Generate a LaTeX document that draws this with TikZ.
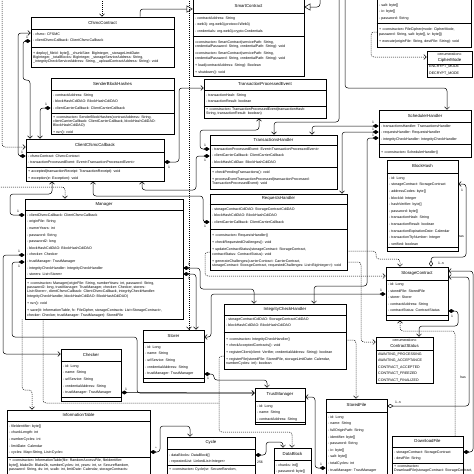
\documentclass[tikz,border=0pt]{standalone}
\usepackage{fontspec}
\setmainfont{Liberation Sans}
\usetikzlibrary{arrows.meta,fit,calc}
\pgfdeclarelayer{back}\pgfdeclarelayer{lines}\pgfsetlayers{back,lines,main}
\tikzset{
 cbox/.style={draw, line width=0.6pt, fill=white, inner sep=0pt},
 ctitle/.style={font=\fontsize{4.3}{5}\selectfont, inner sep=0pt},
 mem/.style={font=\fontsize{3.6}{4.3}\selectfont, inner sep=0pt, anchor=north west, align=left},
 conn/.style={line width=0.5pt, rounded corners=3pt},
 dep/.style={line width=0.5pt, rounded corners=3pt, dash pattern=on 1pt off 1pt},
 nv/.style={-{Straight Barb[length=2.5pt,width=5pt]}},
 cn/.style={{Diamond[length=6pt,width=4pt]}-{Straight Barb[length=2.5pt,width=5pt]}},
 an/.style={{Diamond[open,length=6pt,width=4pt,fill=white]}-{Straight Barb[length=2.5pt,width=5pt]}},
 gen/.style={-{Triangle[open,length=6pt,width=7pt,fill=white]}},
 mult/.style={font=\fontsize{3.4}{4}\selectfont, inner sep=0pt},
}
\newcommand\cls[7]{%
 \node[cbox, fit={(#2,#3) (#4,#5)}] (#1) {};
 \draw[line width=0.5pt] (#1.west |- 0,#6) -- (#1.east |- 0,#6);
 \node[ctitle] (#1-t) at ($(#1.north west)!0.5!(#1.east |- 0,#6)$) {#7};
}
\newcommand\sepl[2]{\draw[line width=0.5pt] (#1.west |- 0,#2) -- (#1.east |- 0,#2);}
\newcommand\RW{\\[2.3pt]}
\newcommand\OP{\\[3pt]}
\begin{document}
\begin{tikzpicture}[x=1pt,y=-1pt]
\begin{pgfonlayer}{back}
\fill[white] (0,0) rectangle (474,474);
\end{pgfonlayer}
\useasboundingbox (0,0) rectangle (474,474);

% ---------------- classes ----------------
\cls{fc}{377}{-15}{471}{47}{-1}{}
\node[mem] (fc-a) at (379,3.4) {- salt: byte[]\RW - iv: byte[]\RW - password: String};
\sepl{fc}{23}
\node[mem] (fc-o) at (379,28) {+ <<constructor>> FileCipher(mode: CipherMode,\\ password: String, salt: byte[], iv: byte[])\OP + execute(originFile: String, destFile: String): void};

\node[cbox, fit={(427,51) (472,77)}] (cm) {};
\node[ctitle] (cm-s) at (449.5,54.3) {\fontsize{3.6}{4}\selectfont <<enumeration>>};
\node[ctitle] (cm-t) at (449.5,60) {CipherMode};
\sepl{cm}{64}
\node[mem] (cm-v) at (429,65.2) {ENCRYPT\_MODE\RW DECRYPT\_MODE};

\cls{sc}{193}{-1}{304}{76}{13}{SmartContract}
\node[mem] (sc-a) at (195,16.4) {- contractAddress: String\RW - web3j: org.web3j.protocol.Web3j\RW - credentials: org.web3j.crypto.Credentials};
\sepl{sc}{36}
\node[mem] (sc-o) at (195,40.4) {<<constructor>> SmartContract(servicePath: String,\\ credentialPassword: String, credentialPath: String): void\OP <<constructor>> SmartContract(servicePath: String,\\ credentialPassword: String, credentialPath: String): void\OP + load(contractAddress: String): Boolean\OP + shutdown(): void};

\cls{cc}{31}{17}{174}{67}{29.5}{CfsmcContract}
\node[mem] (cc-a) at (33,32.4) {- cfsmc: CFSMC\RW - clientCfsmcCallback: ClientCfsmcCallback};
\sepl{cc}{47}
\node[mem] (cc-o) at (33,51.4) {+ deploy(\_fileId: byte[], \_chunkSize: BigInteger, \_storageLimitDate:\\ BigInteger, \_totalBlocks: BigInteger, \_storageServiceAddress: String,\\ \_integrityCheckServiceAddress: String, \_uploadContractAddress: String): void};

\cls{sbh}{51}{78}{174}{134}{90}{SenderBlockHashes}
\node[mem] (sbh-a) at (53,93.4) {- contractAddress: String\RW - blockHashCdiDAO: BlockHashCdiDAO\RW - clientCarrierCallback: ClientCarrierCallback};
\sepl{sbh}{113}
\node[mem] (sbh-o) at (53,115.4) {+ <<constructor>> SenderBlockHashes(contractAddress: String,\\ clientCarrierCallback: ClientCarrierCallback, blockHashCdiDAO:\\ BlockHashCdiDAO)\RW + run(): void};

\cls{ccc}{26}{139}{164}{181}{152}{ClientCfsmcCallback}
\node[mem] (ccc-a) at (28,154.4) {- cfsmcContract: CfsmcContract\RW - transactionProcessedEvent: Event<TransactionProcessedEvent>};
\sepl{ccc}{167}
\node[mem] (ccc-o) at (28,169.6) {+ accepted(transactionReceipt: TransactionReceipt): void\RW + exception(e: Exception): void};

\cls{mgr}{25}{199}{183}{319}{210}{Manager}
\node[mem] (mgr-a) at (27,213.4) {- clientCfsmcCallback: ClientCfsmcCallback\RW - originFile: String\RW - numerYears: int\RW - password: String\RW - password2: long\RW - blockHashCdiDAO: BlockHashCdiDAO\RW - checker: Checker\RW - trustManager: TrustManager\RW - integrityCheckHandler: IntegrityCheckHandler\RW - storers: List<Storer>};
\sepl{mgr}{278}
\node[mem] (mgr-o) at (27,281.4) {+ <<constructor>> Manager(originFile: String, numberYears: int, password: String,\\ password2: long, trustManager: TrustManager, checker: Checker, storers:\\ List<Storer>, clientCfsmcCallback: ClientCfsmcCallback, integrityCheckHandler:\\ IntegrityCheckHandler, blockHashCdiDAO: BlockHashCdiDAO)\OP + run(): void\OP + save(it: InformationTable, fc: FileCipher, storageContracts: List<StorageContract>,\\ checker: Checker, trustManager: TrustManager): StoredFile};

\cls{tpe}{204}{79}{326}{118}{90}{TransactionProcessedEvent}
\node[mem] (tpe-a) at (206,93.4) {- transactionHash: String\RW - transactionResult: boolean};
\sepl{tpe}{106}
\node[mem] (tpe-o) at (206,107.6) {+ <<constructor>> TransactionProcessedEvent(transactionHash:\\ String, transactionResult: boolean)};

\cls{th}{210}{135}{337}{189}{145}{TransactionsHandler}
\node[mem] (th-a) at (212,147.4) {- transactionProcessedEvent: Event<TransactionProcessedEvent>\RW - clientCarrierCallback: ClientCarrierCallback\RW - blockHashCdiDao: BlockHashCdiDAO};
\sepl{th}{167}
\node[mem] (th-o) at (212,170.4) {+ checkPendingTransactions(): void\OP + processEventTransactionProcessed(transactionProcessed:\\ TransactionProcessedEvent): void};

\cls{rh}{210}{194}{347}{270}{204}{RequestsHandler}
\node[mem] (rh-a) at (212,207.4) {- storageContractCdiDAO: StorageContractCdiDAO\RW - blockHashCdiDAO: BlockHashCdiDAO\RW - clientCarrierCallback: ClientCarrierCallback};
\sepl{rh}{229}
\node[mem] (rh-o) at (212,233.4) {+ <<constructor>> RequestsHandler()\OP + checkRequestedChallenges(): void\OP + updateContractStatus(storageContract: StorageContract,\\ contractStatus: ContractStatus): void\OP + generateChallenges(carrierContract: CarrierContract,\\ storageContract: StorageContract, requestedChallenges: List<BigInteger>): void};

\cls{sh}{379}{110}{471}{157}{122}{SchedulerHandler}
\node[mem] (sh-a) at (381,124.4) {- transactionsHandler: TransactionsHandler\RW - requestsHandler: RequestsHandler\RW - integrityCheckHandler: IntegrityCheckHandler};
\sepl{sh}{144}
\node[mem] (sh-o) at (381,150.4) {+ <<constructor>> SchedulerHandler()};

\cls{bh}{387}{160}{458}{251}{173}{BlockHash}
\node[mem] (bh-a) at (389,176.4) {- id: Long\RW - storageContract: StorageContract\RW - addressCodes: byte[]\RW - blockId: Integer\RW - hashVerifier: byte[]\RW - password: byte[]\RW - transactionHash: String\RW - transactionResult: boolean\RW - transactionExpirationDate: Calendar\RW - transactionTtyNumber: Integer\RW - verified: boolean};
\sepl{bh}{247}

\cls{stc}{386}{267}{448}{320}{280}{StorageContract}
\node[mem] (stc-a) at (388,282.6) {- id: Long\RW - storedFile: StoredFile\RW - storer: Storer\RW - contractAddress: String\RW - contractStatus: ContractStatus};
\sepl{stc}{315}

\node[cbox, fit={(376,337) (433,383)}] (cs) {};
\node[ctitle] (cs-s) at (404.5,340.5) {\fontsize{3.6}{4}\selectfont <<enumeration>>};
\node[ctitle] (cs-t) at (404.5,346.3) {ContractStatus};
\sepl{cs}{350}
\node[mem] (cs-v) at (378,352.4) {AWAITING\_PROCESSING\RW AWAITING\_ACCEPTANCE\RW CONTRACT\_ACCEPTED\RW CONTRACT\_FREEZED\RW CONTRACT\_FINALIZED};

\cls{ich}{224}{304}{346}{369}{315}{IntegrityCheckHandler}
\node[mem] (ich-a) at (226,317.4) {- storageContractCdiDAO: StorageContractCdiDAO\RW - blockHashCdiDAO: BlockHashCdiDAO};
\sepl{ich}{332}
\node[mem] (ich-o) at (226,337.4) {+ <<constructor>> IntegrityCheckHandler()\RW + checkAcceptedContracts(): void\RW + registerClient(client: Verifier, credentialAddress: String): boolean\RW + registerFile(storedFile: StoredFile, storageLimitDate: Calendar,\\ numberCycles: int): boolean};

\cls{sto}{143}{330}{204}{382}{342}{Storer}
\node[mem] (sto-a) at (145,345.4) {- id: Long\RW - name: String\RW - urlService: String\RW - credentialAddress: String\RW - trustManager: TrustManager};
\sepl{sto}{378}

\cls{chk}{61}{349}{121}{401}{361}{Checker}
\node[mem] (chk-a) at (63,364.4) {- id: Long\RW - name: String\RW - urlService: String\RW - credentialAddress: String\RW - trustManager: TrustManager};
\sepl{chk}{397}

\cls{tm}{255}{388}{305}{424}{401}{TrustManager}
\node[mem] (tm-a) at (257,404.4) {- id: Long\RW - name: String\RW - contractAddress: String};
\sepl{tm}{422}

\cls{it}{7}{410}{150}{490}{421}{InformationTable}
\node[mem] (it-a) at (9,424.4) {- fileIdentifier: byte[]\RW - chunkLength: int\RW - numberCycles: int\RW - limitDate: Calendar\RW - cycles: Map<String, List<Cycle>>};
\sepl{it}{457}
\node[mem] (it-o) at (9,459) {+ <<constructor>> InformationTable(file: RandomAccessFile, fileIdentifier:\\ byte[], blake2b: Blake2b, numberCycles: int, years: int, sr: SecureRandom,\\ password: String, ds: int, scalb: int, limitDate: Calendar, storageContracts:};

\cls{cyc}{167}{437}{255}{490}{449}{Cycle}
\node[mem] (cyc-a) at (169,453.4) {- dataBlocks: DataBlock[]\RW - repeatedList: LinkedList<Integer>};
\sepl{cyc}{465}
\node[mem] (cyc-o) at (169,467.8) {+ <<constructor>> Cycle(sr: SecureRandom,};

\cls{db}{274}{448}{311}{490}{460}{DataBlock}
\node[mem] (db-a) at (276,463.4) {- chunks: int[]\RW - password: byte[]};

\cls{sf}{326}{399}{387}{490}{412}{StoredFile}
\node[mem] (sf-a) at (328,415.4) {- id: Long\RW - name: String\RW - fullOriginPath: String\RW - identifier: byte[]\RW - password: String\RW - iv: byte[]\RW - salt: byte[]\RW - totalCycles: int\RW - trustManager: TrustManager};

\cls{dl}{392}{436}{463}{490}{447}{DownloadFile}
\node[mem] (dl-a) at (394,450.4) {- storageContract: StorageContract\RW - destFile: String};
\sepl{dl}{463}
\node[mem] (dl-o) at (394,465) {+ <<constructor>>\\ DownloadFile(storageContract: StorageContract,};

% ---------------- free ends ----------------
\coordinate (topA) at (102,-5);
\coordinate (topB) at (2,-5);
\coordinate (topC) at (320,-5);
\coordinate (topD) at (189,-5);
\coordinate (topE) at (339,-5);
\coordinate (topF) at (345,-5);
\coordinate (leftA) at (-5,187);

% ---------------- connectors ----------------
\begin{pgfonlayer}{lines}
\draw[dep,nv] (topA) -- (topA |- cc.north);
\draw[dep,nv] (topB) |- (ccc.west |- 0,147);
\draw[conn,gen] (cc.north -| 140,0) |- (sc.west |- 0,9);
\draw[conn,gen] (topC) |- (sc.east |- 0,7);
\draw[conn,cn] (ccc.west |- 0,156) -- (18,156) |- (cc.west |- 0,33);
\draw[conn,cn] (cc.west |- 0,41) -- (23,41) -- (23,80) -- (30,80) -- (ccc.north -| 30,0);
\draw[conn,cn] (sbh.west |- 0,108) -| (ccc.north -| 40,0);
\draw[conn,cn] (mgr.west |- 0,215) -- (10,215) -- (10,194) -| (ccc.south -| 52,0);
\draw[dep,nv] (leftA) -| (mgr.north -| 65,0);
\draw[conn,cn] (ccc.east |- 0,162) -- (179,162) |- (tpe.west |- 0,88);
\draw[conn,cn] (th.west |- 0,149) -- (200,149) -- (200,130) -| (tpe.south -| 259,0);
\draw[conn,cn] (th.west |- 0,156) -- (196,156) -- (196,190) -| (ccc.south -| 142,0);
\draw[conn,cn] (rh.west |- 0,222) -- (203,222) -- (203,196) -| (ccc.south -| 93,0);
\draw[dep,nv] (topD) -- (topD |- sto.north);
\draw[conn,cn] (mgr.east |- 0,268) -- (200,268) -- (200,289) -| (ich.north -| 254,0);
\draw[conn,cn] (mgr.east |- 0,274) -| (sto.north -| 196,0);
\draw[conn,cn] (mgr.west |- 0,255) -- (3,255) |- (chk.west |- 0,354);
\draw[conn,cn] (mgr.west |- 0,262) -- (12,262) -- (12,337) -- (137,337) |- (tm.west |- 0,393);
\draw[conn,cn] (chk.east |- 0,392.5) -- (tm.west |- 0,393);
\draw[dep,nv] (mgr.south -| 22,0) -- (22,390) -| (it.north -| 32,0);
\draw[dep] (mgr.south -| 43,0) |- (219,403);
\draw[dep,nv] (ich.west |- 0,356) -- (219,356) -- (219,432) -| (db.north -| 292,0);
\draw[conn,cn] (it.east |- 0,452) -- (160,452) -- (160,426) -| (cyc.north -| 190,0);
\draw[conn,cn] (cyc.east |- 0,455) -- (266,455) -- (266,442) -| (db.north -| 283,0);
\draw[conn,cn] (sto.east |- 0,374) -- (214,374) -- (214,380) -| (tm.north -| 267,0);
\draw[conn,cn] (stc.west |- 0,294) -- (211,294) |- (sto.east |- 0,337);
\draw[conn,cn] (sf.west |- 0,468) -- (315,468) |- (tm.east |- 0,397);
\draw[conn,an] (stc.north -| 431,0) -- (431,257) -- (466,257) |- (bh.east |- 0,184);
\draw[conn,an] (sf.east |- 0,406) -- (469,406) |- (stc.east |- 0,277);
\draw[conn,cn] (dl.east |- 0,452) -- (473,452) |- (stc.east |- 0,271);
\draw[conn,cn] (stc.east |- 0,311) -- (458,311) -- (458,326) -| (cs.north -| 419,0);
\draw[dep,nv] (dl.north -| 455,0) -- (455,331) -| (stc.south -| 400,0);
\draw[dep,nv] (rh.east |- 0,251) -- (376,251) -- (376,259) -| (stc.north -| 400,0);
\draw[dep,nv] (rh.east |- 0,262) -- (361,262) |- (cs.west |- 0,342);
\draw[dep,nv] (rh.west |- 0,252) -- (205,252) |- (stc.west |- 0,276);
\draw[dep,nv] (ich.east |- 0,340) -- (356,340) -- (sf.north -| 356,0);
\draw[conn,cn] (sh.west |- 0,126) -- (312,126) -- (th.north -| 312,0);
\draw[conn,cn] (sh.west |- 0,132) -| (rh.north -| 342,0);
\draw[conn,cn] (sh.west |- 0,138) -- (367,138) -- (367,286) -| (ich.north -| 314,0);
\draw[conn,nv] (topE) -- (339,122) -| (th.north -| 274,0);
\draw[conn,nv] (topF) -- (345,88) -| (sh.north -| 447,0);
\draw[dep,nv] (fc.west |- 0,32) -- (371,32) |- (cm.west |- 0,57);
\end{pgfonlayer}

% ---------------- multiplicities ----------------
\node[mult] (m1) at (22,152) {1};
\node[mult] (m2) at (27,37.5) {1};
\node[mult] (m3) at (46,104) {1};
\node[mult] (m4) at (18,211.5) {1};
\node[mult] (m5) at (169,167) {1};
\node[mult] (m6) at (205,145) {1};
\node[mult] (m7) at (205,160.5) {1};
\node[mult] (m8) at (205,226) {1};
\node[mult] (m9) at (189,264.5) {1};
\node[mult] (m10) at (189,278.5) {1};
\node[mult] (m11) at (19,251.5) {1};
\node[mult] (m12) at (19,266) {1};
\node[mult] (m13) at (373,122.5) {1};
\node[mult] (m14) at (373,129) {1};
\node[mult] (m15) at (373,135) {1};
\node[mult] (m16) at (208,378.5) {1};
\node[mult] (m17) at (126,389) {1};
\node[mult] (m18) at (321,464.5) {1};
\node[mult] (m19) at (452,316) {1};
\node[mult] (m20) at (381,290.5) {1};
\node[mult] (m21) at (156,448) {*};
\node[mult] (m22) at (260,462) {256};
\node[mult] (m23) at (441,263) {1..n};
\node[mult] (m24) at (461,236) {has};
\node[mult] (m25) at (462,190) {1};
\node[mult] (m26) at (398,402.5) {1..n};
\node[mult] (m27) at (463,377) {has};
\end{tikzpicture}
\end{document}
